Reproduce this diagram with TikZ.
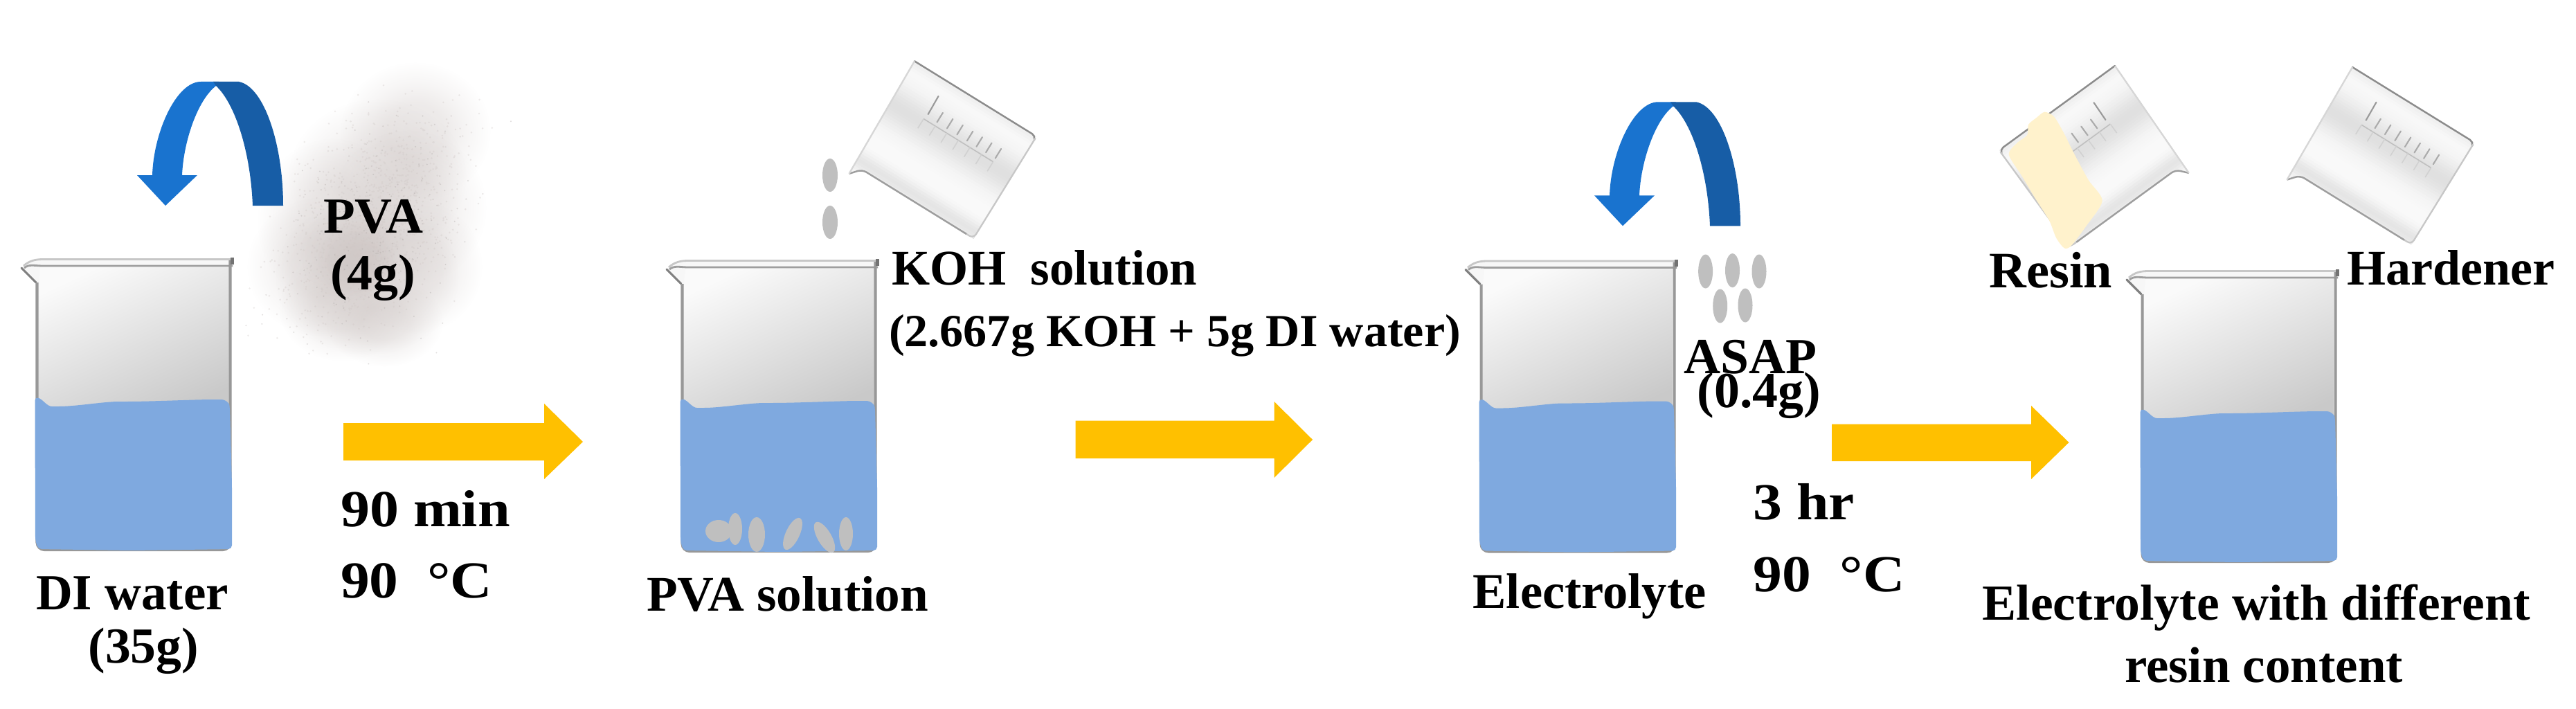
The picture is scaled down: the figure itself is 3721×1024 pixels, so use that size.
\documentclass[tikz,border=0pt]{standalone}
\usepackage{fontspec}
\usepackage{graphicx}
\setmainfont{Liberation Serif}
\usetikzlibrary{fadings,calc}
\definecolor{liquid}{HTML}{7FA9DF}
\definecolor{yel}{HTML}{FFC000}
\definecolor{bluel}{HTML}{1973CF}
\definecolor{blued}{HTML}{175DA6}
\definecolor{pellet}{HTML}{BFBFBF}
\definecolor{resin}{HTML}{FFF2CC}
\definecolor{wall}{HTML}{989898}
\definecolor{powd}{HTML}{CFC7C5}
\newlength\pxu
\setlength\pxu{0.02cm}
\pgfdeclareradialshading{fzs}{\pgfpointorigin}{color(0bp)=(transparent!58); color(8bp)=(transparent!64); color(14bp)=(transparent!84); color(20bp)=(transparent!100); color(50bp)=(transparent!100)}
\pgfdeclarefading{fuzzy}{\pgfuseshading{fzs}}
\tikzset{
  x=0.02cm, y=-0.02cm,
  txt/.style={anchor=base west, inner sep=0pt, outer sep=0pt, text=black},
  drop/.style={fill=pellet, draw=none},
  yarrow/.style={fill=yel, draw=none},
  cloud/.style={path fading=fuzzy, draw=none, fill=powd},
  declare function={bandk(\y)=2+10*exp(-((\y-68)/30)^2)+8*exp(-((\y-162)/14)^2)+4*exp(-(\y/9)^2);}
}
% text: name, x, baseline y, width, font size (pt), text
\newcommand\lbl[6]{\node[txt,font=\fontsize{#5}{#5}\selectfont\bfseries] (#1) at (#2,#3) {\resizebox{#4\pxu}{\height}{#6}};}
% upright beaker, offset dx,dy
\newcommand\beaker[2]{%
\begin{scope}[shift={(#1,#2)}]
  \shade[top color=black!2,bottom color=black!21,shading angle=25] (55,383) rectangle (330,600);
  \fill[black!3] (31,387) .. controls (39,378) and (50,374) .. (62,374) -- (337,374) -- (337,386) -- (58,386) -- (56,408) -- (52,408) -- cycle;
  \draw[black!22,line width=1.6pt] (34,384) .. controls (42,377) and (50,374.5) .. (62,374.5) -- (337,374.5);
  \draw[black!38,line width=1.6pt] (35,387) .. controls (42,381) and (50,384) .. (62,384) -- (336,384);
  \draw[black!50,line width=1.8pt,line cap=round] (31,387) -- (52,408);
  \draw[wall,line width=2.3pt,rounded corners=6pt] (53.5,408) -- (53.5,794) -- (332.5,794) -- (332.5,376);
  \fill[black!55] (333,372) rectangle (338,382);
  \fill[liquid,rounded corners=3pt] (50.5,573) .. controls (62,577) and (68,587) .. (80,587) .. controls (110,587) and (150,580) .. (177,580) .. controls (220,580) and (280,577) .. (315,577) .. controls (325,577) and (331,582) .. (332,590) -- (335,700) -- (335,793) -- (190,795) -- (55,793) -- (51,780) -- cycle;
\end{scope}}
% tilted beaker in local frame: x from rim to base, y across
\newcommand\tiltbeaker[1]{%
\begin{scope}[#1]
  \begin{scope}
    \clip (0,0) -- (207,0) -- (207,173) -- (18,173) -- (5,188) -- cycle;
    \foreach \yy in {-2,2,...,190}{
      \pgfmathsetmacro\kk{bandk(\yy)}
      \fill[black!\kk] (-5,\yy) rectangle (215,195);
    }
  \end{scope}
  \draw[black!45,line width=1.4pt,line cap=round,rounded corners=3pt] (0,0) -- (205,0) -- (207,6);
  \draw[black!22,line width=1.3pt,rounded corners=4pt] (207,3) -- (207,173) -- (190,173);
  \draw[black!38,line width=1.4pt,rounded corners=4pt] (195,173) -- (18,173) -- (5,188);
  \draw[black!16,line width=1.3pt] (0,0) -- (5,188);
  \draw[black!40,line width=1.2pt,line cap=round] (56,25) -- (57,55);
  \foreach \tx in {74,91,108,125,141,157,173}
    \draw[black!33,line width=1.2pt,line cap=round] (\tx,42) -- (\tx,58);
  \draw[black!25,line width=.9pt] (55,64) -- (173,64);
  \foreach \tx in {55,74.6,94.3,114,133.6,153.3,173}
    \draw[black!18,line width=.9pt] (\tx,64) -- (\tx,80);
\end{scope}}
% two-tone curved arrow
\newcommand\curved[2]{%
\begin{scope}[shift={(#1,#2)}]
  \fill[bluel] (220,253) .. controls (222,190) and (255,118) .. (290,118) -- (316,118) -- (312,124) .. controls (285,145) and (265,205) .. (263,253) -- (285,253) -- (239,297) -- (198,253) -- cycle;
  \fill[blued] (312,124) -- (308,118) -- (345,118) .. controls (382,125) and (409,210) .. (409,297) -- (365,297) .. controls (362,220) and (340,150) .. (312,124) -- cycle;
\end{scope}}
\begin{document}
\begin{tikzpicture}
\useasboundingbox (0,0) rectangle (3721,1024);
\fill[white] (0,0) rectangle (3721,1024);

% PVA powder: overlapping soft patches
\foreach \cx/\cy/\rx/\ry in {
  600/190/135/125, 545/255/160/140, 590/300/140/140,
  480/320/135/150, 465/385/135/125, 530/400/165/140, 600/385/120/120,
  495/445/115/95, 555/465/105/80, 510/365/95/85, 515/375/70/65, 520/378/60/55}
  { \fill[cloud] (\cx,\cy) ellipse [x radius=\rx,y radius=\ry]; }
\pgfmathsetseed{11}
\fill[powd,opacity=.35]
  foreach \i [evaluate=\i as \dx using {58*(rand+rand+rand)}, evaluate=\i as \dy using {75*(rand+rand+rand)}] in {1,...,1100}
  { ({535+\dx-0.3*\dy},{320+\dy}) circle (1.4) };
\fill[black!18!powd,opacity=.35]
  foreach \i [evaluate=\i as \dx using {65*(rand+rand+rand)}, evaluate=\i as \dy using {78*(rand+rand+rand)}] in {1,...,220}
  { ({535+\dx-0.3*\dy},{325+\dy}) circle (1.1) };

% beakers
\beaker{0}{0}
\beaker{932}{2}
\beaker{2086}{2.5}
\beaker{3041}{17}

% tilted beakers
\tiltbeaker{shift={(1321,88.3)},rotate=-31.7}
\tiltbeaker{shift={(3398,97)},rotate=-31.7}
\tiltbeaker{shift={(3055,95)},rotate=36.1,xscale=-1}
\fill[resin] plot[smooth cycle,tension=0.45] coordinates {(2953.3,161.7) (2966.7,168.3) (2980,190) (2996.7,223.3) (3016.7,260) (3036.7,290) (3013.3,326.7) (2991.7,355) (2981.7,358.3) (2970,343.3) (2960,318.3) (2940,286.7) (2920,253.3) (2901.7,223.3) (2913.3,206.7) (2928.3,195) (2930,180) (2941.7,170)};

% curved arrows
\curved{0}{0}
\curved{2105}{29.3}

% yellow arrows
\fill[yarrow] (496,611) -- (786,611) -- (786,583) -- (842,638) -- (786,692) -- (786,665) -- (496,665) -- cycle;
\fill[yarrow] (1553.5,607.5) -- (1840.6,607.5) -- (1840.6,580) -- (1896,635) -- (1840.6,690) -- (1840.6,662) -- (1553.5,662) -- cycle;
\fill[yarrow] (2646,612.7) -- (2934,612.7) -- (2934,586) -- (2988.5,639) -- (2934,692) -- (2934,666) -- (2646,666) -- cycle;

% pellets
\fill[drop] (1199,253) ellipse [x radius=11,y radius=24];
\fill[drop] (1199,321) ellipse [x radius=11,y radius=24];
\fill[drop] (1038,767) ellipse [x radius=19,y radius=16];
\fill[drop] (1062,764) ellipse [x radius=10,y radius=23];
\fill[drop] (1093,772) ellipse [x radius=12,y radius=25];
\fill[drop,rotate around={-25:(1145,771)}] (1145,771) ellipse [x radius=10,y radius=25];
\fill[drop,rotate around={30:(1191,776)}] (1191,776) ellipse [x radius=10,y radius=25];
\fill[drop] (1222,771) ellipse [x radius=10,y radius=24];
\fill[drop] (2463.6,392) ellipse [x radius=10.5,y radius=24.5];
\fill[drop] (2502.5,390.6) ellipse [x radius=10.5,y radius=24.5];
\fill[drop] (2541,392) ellipse [x radius=10.5,y radius=24.5];
\fill[drop] (2484.7,442) ellipse [x radius=10.5,y radius=24.5];
\fill[drop] (2521,441) ellipse [x radius=10.5,y radius=24.5];

% labels
\lbl{pva}{467}{336}{144}{41.5}{PVA}
\lbl{pvag}{477}{418}{123}{41.5}{(4g)}
\lbl{di}{52}{880}{278}{41.5}{DI water}
\lbl{dig}{127.5}{957}{159.5}{41.5}{(35g)}
\lbl{tA}{492}{760}{245}{42.7}{90 min}
\lbl{cA}{492}{863.5}{219}{42.7}{90~~°C}
\lbl{koh}{1288}{411.5}{441}{41}{KOH~~solution}
\lbl{kohg}{1284}{500}{826}{37.8}{(2.667g KOH + 5g DI water)}
\lbl{pvas}{934}{882}{407}{41}{PVA solution}
\lbl{elec}{2127.5}{878.5}{337}{41}{Electrolyte}
\lbl{asap}{2432}{539}{192}{41.5}{ASAP}
\lbl{asapg}{2451.5}{588}{178.5}{41.5}{(0.4g)}
\lbl{tB}{2532.5}{750}{146.5}{42.7}{3 hr}
\lbl{cB}{2532.5}{854}{219}{42.7}{90~~°C}
\lbl{res}{2873.4}{415}{177.6}{42}{Resin}
\lbl{hard}{3390}{411.5}{300}{41}{Hardener}
\lbl{ewd}{2863.4}{895}{791}{41.5}{Electrolyte with different}
\lbl{rc}{3069}{985}{402}{41.5}{resin content}
\end{tikzpicture}
\end{document}
